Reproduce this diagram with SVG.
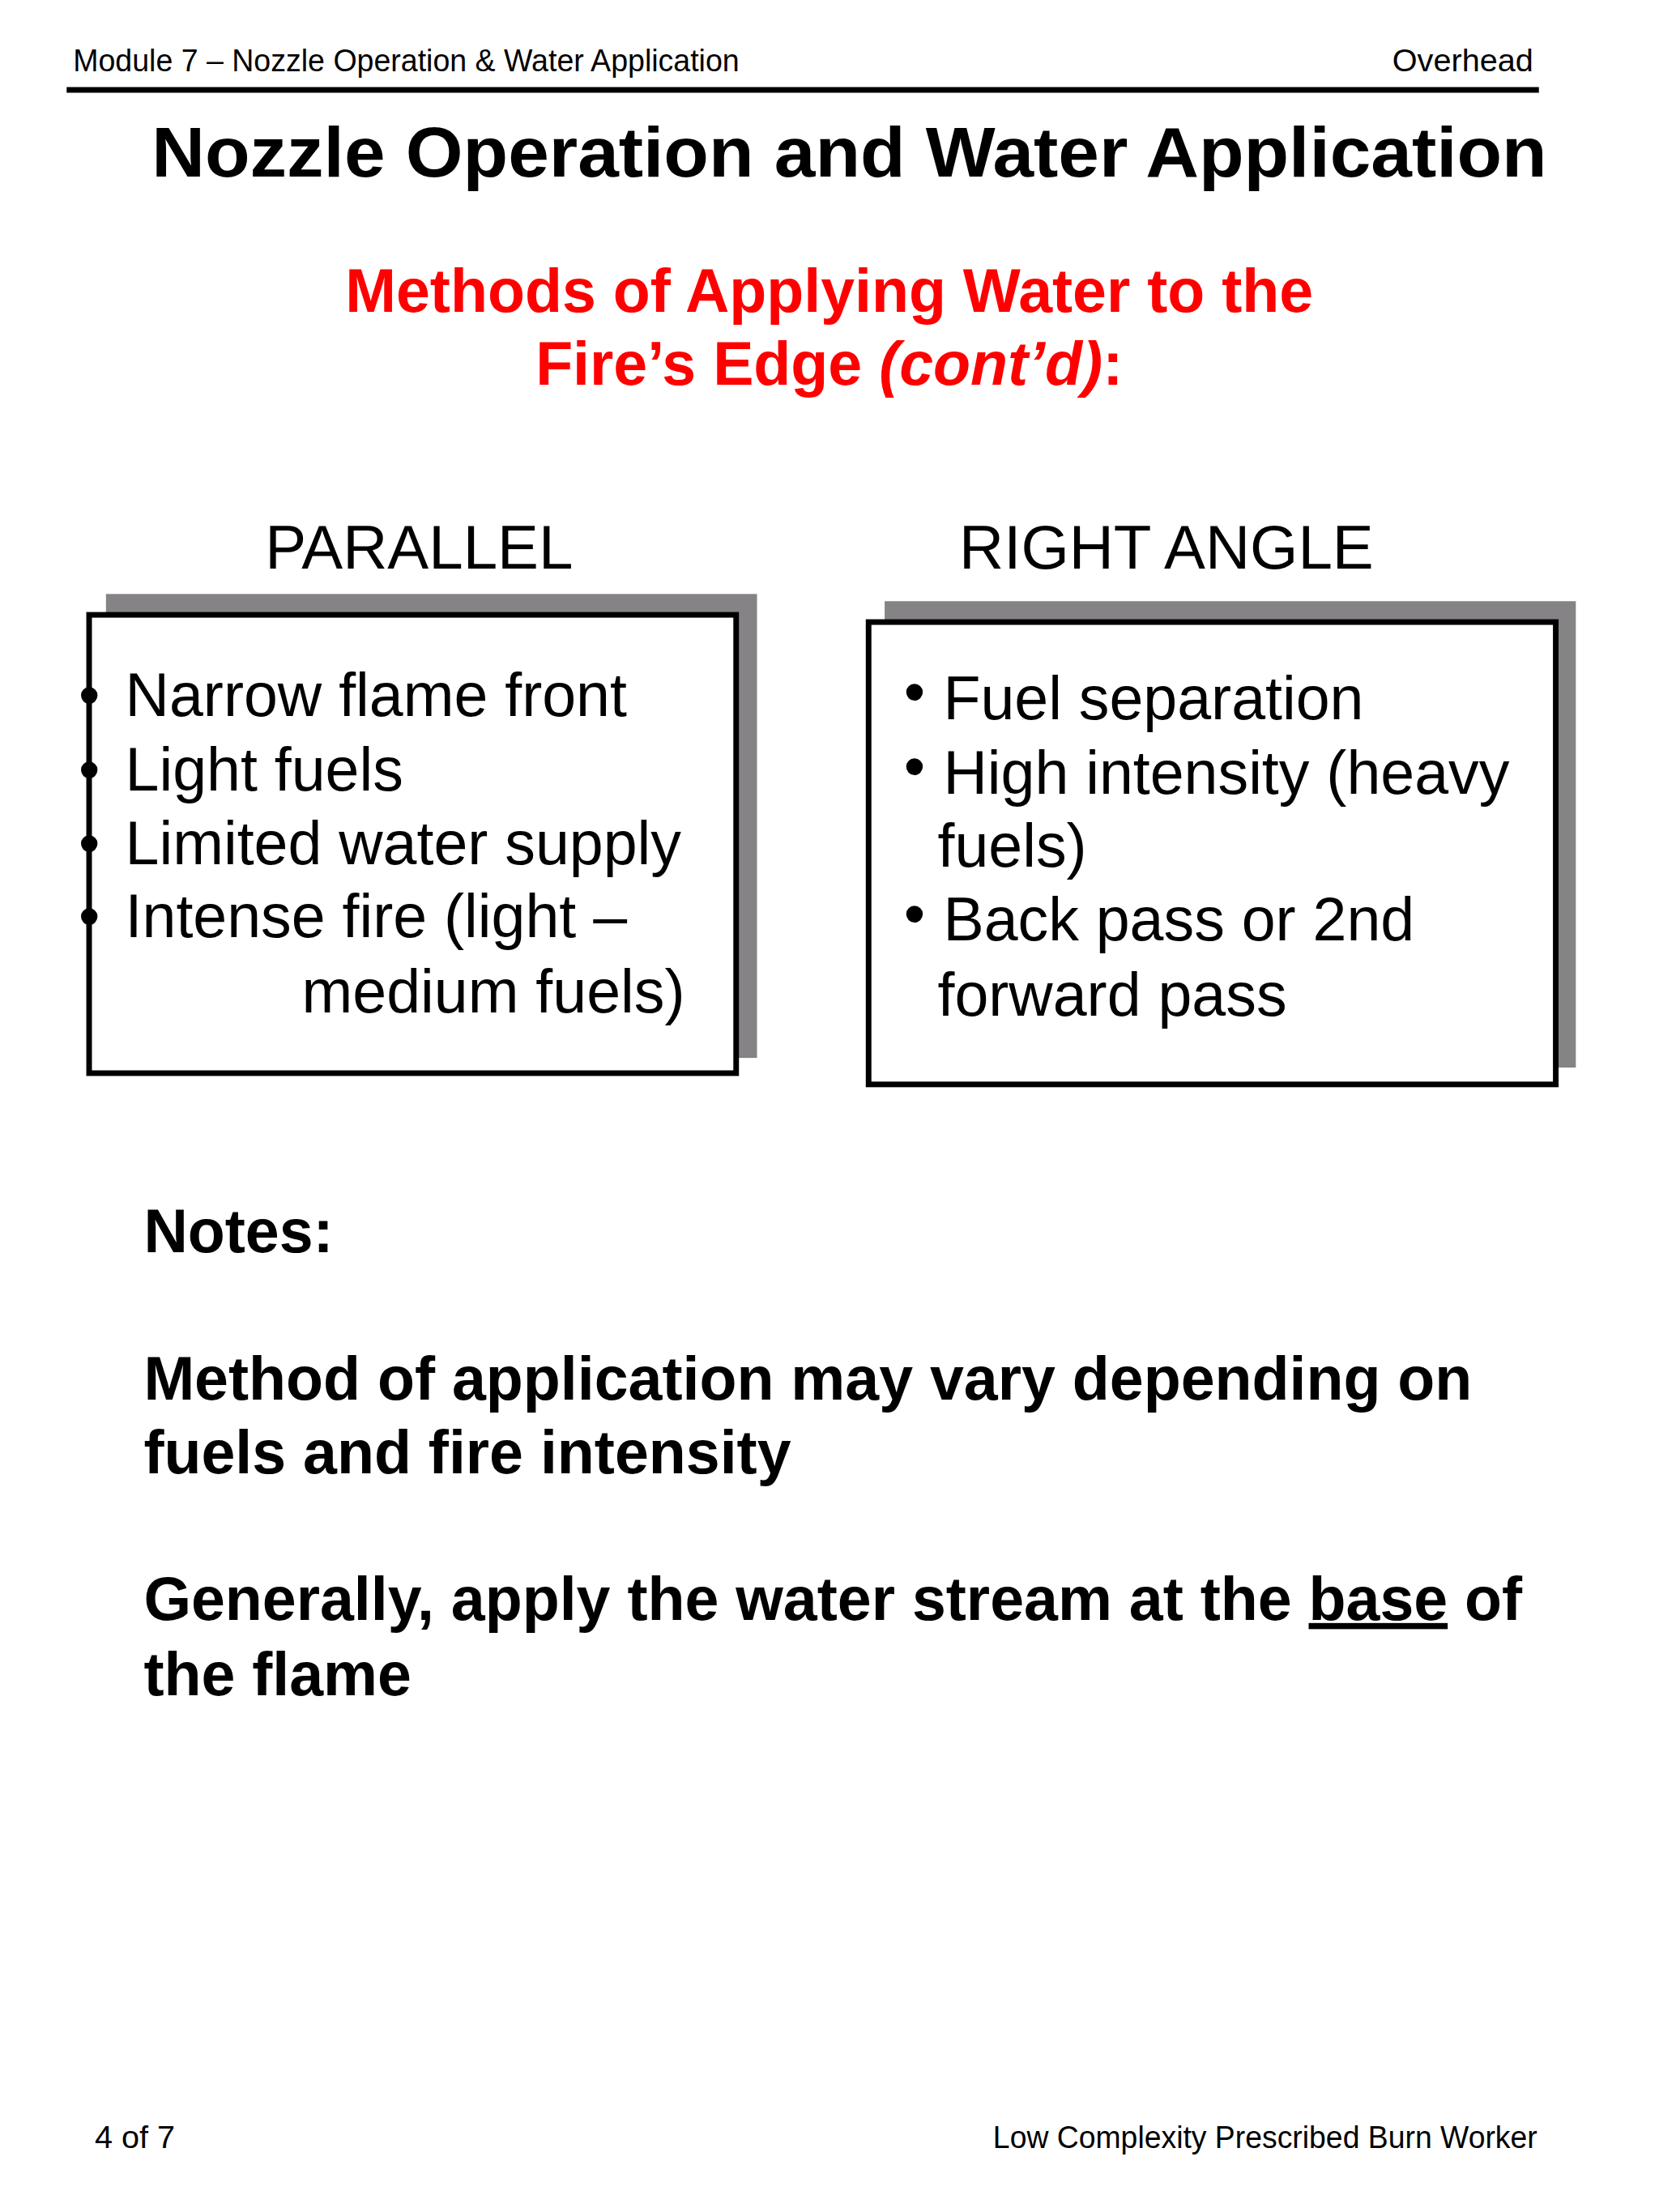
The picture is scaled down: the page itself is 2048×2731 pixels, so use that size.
<svg xmlns="http://www.w3.org/2000/svg" width="2048" height="2731" viewBox="0 0 2048 2731">
<style>
text{font-family:"Liberation Sans",Arial,sans-serif;fill:#000}
.hdr{font-size:40px}
.title{font-size:88px;font-weight:bold}
.red{font-size:76px;font-weight:bold;fill:#ff0000}
.head{font-size:77px}
.item{font-size:76px}
.note{font-size:76px;font-weight:bold}
.shadow{fill:#858385}
.box{fill:#fff;stroke:#000;stroke-width:7}
</style>
<rect width="2048" height="2731" fill="#fff"/>
<g transform="scale(0.991)">
<g id="header">
<text class="hdr" x="91" y="89" textLength="830" lengthAdjust="spacingAndGlyphs">Module 7 – Nozzle Operation &amp; Water Application</text>
<text class="hdr" x="1910" y="89" text-anchor="end">Overhead</text>
<line x1="83" y1="112" x2="1917" y2="112" stroke="#000" stroke-width="7"/>
</g>
<text class="title" x="1058" y="220" text-anchor="middle" textLength="1738" lengthAdjust="spacingAndGlyphs">Nozzle Operation and Water Application</text>
<text class="red" x="1033" y="388" text-anchor="middle">Methods of Applying Water to the</text>
<text class="red" x="1033" y="479" text-anchor="middle">Fire’s Edge <tspan font-style="italic">(cont’d)</tspan>:</text>
<g id="parallel">
<text class="head" x="522" y="708" text-anchor="middle">PARALLEL</text>
<rect class="shadow" x="132" y="740" width="811" height="578"/>
<rect class="box" x="111" y="766" width="806" height="571"/>
<text class="item" x="98" y="892">•</text><text class="item" x="156" y="892">Narrow flame front</text>
<text class="item" x="98" y="985">•</text><text class="item" x="156" y="985">Light fuels</text>
<text class="item" x="98" y="1077">•</text><text class="item" x="156" y="1077">Limited water supply</text>
<text class="item" x="98" y="1168">•</text><text class="item" x="156" y="1168">Intense fire (light –</text>
<text class="item" x="376" y="1261">medium fuels)</text>
</g>
<g id="rightangle">
<text class="head" x="1453" y="708" text-anchor="middle">RIGHT ANGLE</text>
<rect class="shadow" x="1102" y="749" width="861" height="581"/>
<rect class="box" x="1082" y="775" width="856" height="576"/>
<text class="item" x="1126" y="888">•</text><text class="item" x="1175" y="896">Fuel separation</text>
<text class="item" x="1126" y="981">•</text><text class="item" x="1175" y="989">High intensity (heavy</text>
<text class="item" x="1168" y="1080">fuels)</text>
<text class="item" x="1126" y="1164">•</text><text class="item" x="1175" y="1172">Back pass or 2nd</text>
<text class="item" x="1168" y="1265">forward pass</text>
</g>
<g id="notes">
<text class="note" x="179" y="1560">Notes:</text>
<text class="note" x="179" y="1744">Method of application may vary depending on</text>
<text class="note" x="179" y="1836">fuels and fire intensity</text>
<text class="note" x="179" y="2018">Generally, apply the water stream at the <tspan text-decoration="underline">base</tspan> of</text>
<text class="note" x="179" y="2112">the flame</text>
</g>
<g id="footer">
<text class="hdr" x="118" y="2676">4 of 7</text>
<text class="hdr" x="1915" y="2676" text-anchor="end" textLength="678" lengthAdjust="spacingAndGlyphs">Low Complexity Prescribed Burn Worker</text>
</g>
</g>
</svg>
